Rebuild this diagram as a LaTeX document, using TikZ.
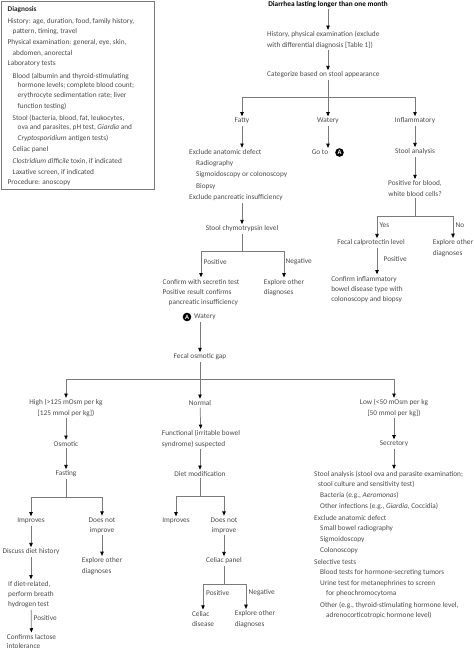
\documentclass[tikz,border=0pt]{standalone}
\usepackage{fontspec}
\setmainfont{Carlito}
\usetikzlibrary{arrows.meta}
\definecolor{txt}{HTML}{4A4A4A}
\definecolor{lnc}{HTML}{7A7A7A}
\newcommand\fs{\fontsize{7.3}{10.4}\selectfont}
\begin{document}
\begin{tikzpicture}[x=1pt,y=-1pt,
  every node/.style={font=\fs, text=txt, inner sep=1.5pt},
  tl/.style={anchor=west},
  bl/.style={align=left},
  bc/.style={align=center},
  lab/.style={anchor=west, inner sep=1pt},
  conn/.style={draw=lnc, line width=0.7pt},
  arr/.style={draw=lnc, line width=0.7pt, -{Triangle[length=4.2pt,width=3.4pt,color=black]}},
  circA/.style={circle, fill=black, text=white, font=\fontsize{6.5}{7}\selectfont\bfseries, inner sep=0pt, minimum size=8.6pt}
]
\useasboundingbox (0,0) rectangle (474,651);

% ---------- Diagnosis box ----------
\draw[conn, line width=0.6pt] (1,1) rectangle (154,189);
\node[tl, font=\fs\bfseries, text=black!85] (d1) at (6,10) {Diagnosis};
\node[tl] (d2) at (6,22) {History: age, duration, food, family history,};
\node[tl] (d3) at (11,32) {pattern, timing, travel};
\node[tl] (d4) at (6,43) {Physical examination: general, eye, skin,};
\node[tl] (d5) at (11,53) {abdomen, anorectal};
\node[tl] (d6) at (6,64) {Laboratory tests};
\node[tl] (d7) at (11,76) {Blood (albumin and thyroid-stimulating};
\node[tl] (d8) at (16,86) {hormone levels; complete blood count;};
\node[tl] (d9) at (16,96) {erythrocyte sedimentation rate; liver};
\node[tl] (d10) at (16,106) {function testing)};
\node[tl] (d11) at (11,118) {Stool (bacteria, blood, fat, leukocytes,};
\node[tl] (d12) at (16,128) {ova and parasites, pH test, \textit{Giardia} and};
\node[tl] (d13) at (16,138) {\textit{Cryptosporidium} antigen tests)};
\node[tl] (d14) at (11,150) {Celiac panel};
\node[tl] (d15) at (11,161) {\textit{Clostridium difficile} toxin, if indicated};
\node[tl] (d16) at (11,172) {Laxative screen, if indicated};
\node[tl] (d17) at (6,183) {Procedure: anoscopy};

% ---------- Top ----------
\node[font=\fs\bfseries, text=black] (title) at (328,4.5) {Diarrhea lasting longer than one month};
\node[tl, bl] (hist) at (265.5,40) {History, physical examination (exclude\\with differential diagnosis [Table 1])};
\node[tl] (cat) at (265.5,75) {Categorize based on stool appearance};
\coordinate (c0) at (328,0);
\draw[arr] (title.south -| c0) -- (hist.north -| c0);
\draw[arr] (hist.south -| c0) -- (cat.north -| c0);

\node (fatty) at (242,121) {Fatty};
\node (wat) at (328,121) {Watery};
\node (infl) at (415,121) {Inflammatory};
\coordinate (b1) at (328,97);
\draw[conn] (cat.south -| c0) -- (b1);
\draw[arr] (b1) -| (fatty.north);
\draw[arr] (b1) -- (wat.north);
\draw[arr] (b1) -| (infl.north);

% ---------- Fatty ----------
\node[tl] (exd) at (187.5,152) {Exclude anatomic defect};
\node[tl] (rad) at (194.5,163.5) {Radiography};
\node[tl] (sig) at (194.5,175) {Sigmoidoscopy or colonoscopy};
\node[tl] (bio) at (194.5,186.5) {Biopsy};
\node[tl] (excp) at (187.5,198) {Exclude pancreatic insufficiency};
\draw[arr] (fatty.south) -- (fatty.south |- exd.north);
\node (chy) at (242,229) {Stool chymotrypsin level};
\draw[arr] (excp.south -| fatty) -- (chy.north);
\coordinate (b2) at (242,251);
\draw[conn] (chy.south) -- (b2);
\node[bl] (sec) at (201,292.5) {Confirm with secretin test\\Positive result confirms\\\hspace*{6pt}pancreatic insufficiency};
\node[bl] (eo1) at (284,287.5) {Explore other\\diagnoses};
\draw[arr] (b2) -| (sec.north);
\draw[arr] (b2) -| (eo1.north);
\node[lab] (lp1) at (202.5,262) {Positive};
\node[lab] (ln1) at (284.5,262) {Negative};

% ---------- Watery ----------
\node (goto) at (320,152) {Go to};
\node[circA] (gA) at (339.5,152.5) {A};
\draw[arr] (wat.south) -- (wat.south |- goto.north);

% ---------- Inflammatory ----------
\node (stan) at (415,152) {Stool analysis};
\draw[arr] (infl) -- (stan);
\node[bc] (posb) at (415,188.5) {Positive for blood,\\white blood cells?};
\draw[arr] (stan) -- (posb);
\coordinate (b3) at (415,216);
\draw[conn] (posb.south) -- (b3);
\node (calp) at (371,243) {Fecal calprotectin level};
\node[bl] (eo2) at (453,248) {Explore other\\diagnoses};
\draw[arr] (b3) -| ([xshift=6pt]calp.north);
\draw[arr] (b3) -| (eo2.north);
\node[lab] (ly) at (378.5,225) {Yes};
\node[lab] (lno) at (454.5,225) {No};
\node[bl] (ibd) at (367,289.5) {Confirm inflammatory\\bowel disease type with\\colonoscopy and biopsy};
\draw[arr] ([xshift=6pt]calp.south) -- ([xshift=6pt]calp.south |- ibd.north);
\node[lab] (lp2) at (382.5,259) {Positive};

% ---------- Watery (A) ----------
\node[circA] (wA) at (187,317) {A};
\node[tl] (wAt) at (192.5,317) {Watery};
\node (fog) at (200,357) {Fecal osmotic gap};
\draw[arr] (wAt.south -| fog) -- (fog.north);
\coordinate (b4) at (200,379);
\draw[conn] (fog.south) -- (b4);
\node[bc] (high) at (66,408) {High (>125 mOsm per kg\\{[125 mmol per kg])}};
\node (norm) at (200,403) {Normal};
\node[bc] (low) at (394,408) {Low (<50 mOsm per kg\\{[50 mmol per kg])}};
\draw[arr] (b4) -| (high.north);
\draw[arr] (b4) -- (norm.north);
\draw[arr] (b4) -| (low.north);

% ---------- Osmotic ----------
\node (osm) at (66,444) {Osmotic};
\draw[arr] (high) -- (osm);
\node (fast) at (66,474) {Fasting};
\draw[arr] (osm) -- (fast);
\coordinate (b5) at (66,497);
\draw[conn] (fast.south) -- (b5);
\node (imp1) at (31,521) {Improves};
\node[bc] (dni1) at (102,525.5) {Does not\\improve};
\draw[arr] (b5) -| (imp1.north);
\draw[arr] (b5) -| (dni1.north);
\node (ddh) at (31,552) {Discuss diet history};
\draw[arr] (imp1) -- (ddh);
\node[bl] (ifd) at (31,594.5) {If diet-related,\\perform breath\\hydrogen test};
\draw[arr] (ddh) -- (ifd);
\node[bl, font=\fontsize{7.3}{9.6}\selectfont] (clt) at (31.5,641.5) {Confirms lactose\\intolerance};
\draw[arr] (ifd) -- (clt);
\node[lab] (lp3) at (32.5,618) {Positive};
\node[bl] (eo3) at (102,566) {Explore other\\diagnoses};
\draw[arr] (dni1) -- (eo3);

% ---------- Normal ----------
\node[bl] (func) at (201,439) {Functional (irritable bowel\\syndrome) suspected};
\draw[arr] (norm) -- (func);
\node (dmod) at (200,474) {Diet modification};
\draw[arr] (func.south -| norm) -- (dmod.north);
\coordinate (b6) at (200,496);
\draw[conn] (dmod.south) -- (b6);
\node (imp2) at (176,521) {Improves};
\node[bc] (dni2) at (224,525.5) {Does not\\improve};
\draw[arr] (b6) -| (imp2.north);
\draw[arr] (b6) -| (dni2.north);
\node (celp) at (224,561) {Celiac panel};
\draw[arr] (dni2) -- (celp);
\coordinate (b7) at (224,584);
\draw[conn] (celp.south) -- (b7);
\node[bl] (cd) at (203,619) {Celiac\\disease};
\node[bl] (eo4) at (255,619) {Explore other\\diagnoses};
\draw[arr] (b7) -| (cd.north);
\draw[arr] (b7) -| ([xshift=-9pt]eo4.north);
\node[lab] (lp4) at (205,593) {Positive};
\node[lab] (ln4) at (247.5,593) {Negative};

% ---------- Secretory ----------
\node (secr) at (394,444) {Secretory};
\draw[arr] (low) -- (secr);
\node[tl] (s1) at (312.5,474) {Stool analysis (stool ova and parasite examination;};
\node[tl] (s2) at (316.5,484.5) {stool culture and sensitivity test)};
\node[tl] (s3) at (318.5,495.5) {Bacteria (e.g., \textit{Aeromonas})};
\node[tl] (s4) at (318.5,506.5) {Other infections (e.g., \textit{Giardia,} Coccidia)};
\node[tl] (s5) at (312.5,517.5) {Exclude anatomic defect};
\node[tl] (s6) at (318.5,528.5) {Small bowel radiography};
\node[tl] (s7) at (318.5,539.5) {Sigmoidoscopy};
\node[tl] (s8) at (318.5,550.5) {Colonoscopy};
\node[tl] (s9) at (312.5,561.5) {Selective tests};
\node[tl] (s10) at (318.5,572.5) {Blood tests for hormone-secreting tumors};
\node[tl] (s11) at (318.5,583.5) {Urine test for metanephrines to screen};
\node[tl] (s12) at (324.5,594) {for pheochromocytoma};
\node[tl] (s13) at (318.5,605) {Other (e.g., thyroid-stimulating hormone level,};
\node[tl] (s14) at (324.5,615.5) {adrenocorticotropic hormone level)};
\draw[arr] (secr.south) -- (secr.south |- s1.north);
\end{tikzpicture}
\end{document}
